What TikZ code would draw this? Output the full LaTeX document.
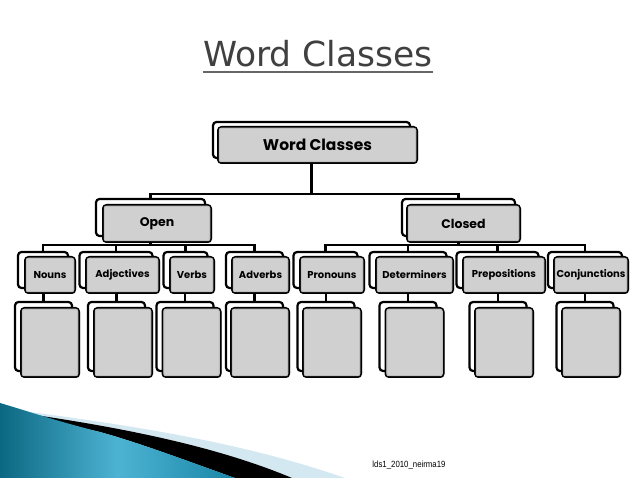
\documentclass[tikz,border=0pt]{standalone}
\usepackage{fontspec}
\setmainfont{DejaVu Sans}
\newfontfamily\boxfont{Poppins}
\newfontfamily\footfont{Liberation Sans}
\usetikzlibrary{shadows}
\definecolor{boxgray}{HTML}{D0D0D0}
\definecolor{titlegray}{HTML}{404040}
\definecolor{tealdark}{HTML}{0C6882}
\definecolor{teallight}{HTML}{4DB3D3}
\definecolor{tealmid}{HTML}{1A86A6}
\definecolor{paleblue}{HTML}{D3E8F0}
\pgfdeclarelayer{bg}
\pgfsetlayers{bg,main}
\tikzset{
  backbox/.style={draw=black, line width=2.2pt, fill=white, rounded corners=3.5pt, inner sep=0pt},
  frontbox/.style={draw=black, line width=2pt, fill=boxgray, rounded corners=3.5pt, inner sep=0pt,
    drop shadow={shadow xshift=1pt, shadow yshift=-1pt, fill=black!60, opacity=0.6}},
  bevelline/.style={draw=gray!50, line width=1.1pt, rounded corners=2pt},
  lbl/.style={font=\boxfont\bfseries\fontsize{10}{12}\selectfont},
  lbltop/.style={font=\boxfont\bfseries\fontsize{12.5}{14}\selectfont},
  conn/.style={draw=black, line width=2.3pt},
}
\newcommand{\bevel}[1]{\draw[bevelline] ([shift={(2.3pt,-2.3pt)}]#1.north west) rectangle ([shift={(-2.3pt,2.3pt)}]#1.south east);}
\begin{document}
\begin{tikzpicture}[x=1pt,y=-1pt]
\useasboundingbox (0,0) rectangle (638,478);
\begin{pgfonlayer}{bg}
\fill[white] (0,0) rectangle (638,478);
\end{pgfonlayer}

% title
\node[anchor=base, text=titlegray, font=\fontsize{34.5}{38}\selectfont, inner sep=0pt] (title) at (318,67) {Word Classes};
\draw[titlegray!80, line width=2pt] (title.south west |- 0,72) -- (title.south east |- 0,72);

% swoosh
\fill[paleblue] (0,403) -- (30,412) .. controls (150,428) and (250,445) .. (345,478) -- (0,478) -- cycle;
\fill[black] (35,415) .. controls (150,432) and (230,452) .. (292,478) -- (235,478)
  .. controls (190,462) and (140,443) .. (100,432) .. controls (70,425) and (50,420) .. (35,416) -- cycle;
\shade[left color=tealdark, right color=tealmid, middle color=teallight]
  (0,403) .. controls (30,412) and (60,422) .. (100,432) .. controls (140,443) and (190,462) .. (235,478) -- (0,478) -- cycle;
\node[font=\footfont\fontsize{9}{10}\selectfont, xscale=0.87, inner sep=0pt] (foot) at (409,465) {lds1\_2010\_neirma19};

% root
\node[backbox, minimum width=197pt, minimum height=36pt] (rootb) at (311.5,140) {};
\node[frontbox, minimum width=199pt, minimum height=36pt, font=\boxfont\bfseries\fontsize{15.5}{17}\selectfont] (root) at (317.5,145) {Word Classes};
\bevel{root}

% level 1
\node[backbox, minimum width=109pt, minimum height=37pt] (openb) at (150.5,217.5) {};
\node[frontbox, lbltop, minimum width=108pt, minimum height=37pt] (open) at (157,223.5) {Open};
\bevel{open}
\node[backbox, minimum width=113pt, minimum height=37pt] (closedb) at (458.5,217.5) {};
\node[frontbox, lbltop, minimum width=113pt, minimum height=37pt] (closed) at (463.5,223.5) {Closed};
\bevel{closed}

% level 2
\foreach \nm/\fx/\bx/\w/\txt in {nouns/50/43/50/Nouns, adj/122.5/116/73/Adjectives, verbs/192/185.5/44/Verbs, adv/260.5/254.5/57/Adverbs,
  pron/332/325.5/64/Pronouns, det/414.5/408/77/Determiners, prep/504/497.5/82/Prepositions, conj/591/585/74/Conjunctions}{
  \node[backbox, minimum width=\w pt, minimum height=36pt] (\nm b) at (\bx,270) {};
  \node[frontbox, lbl, minimum width=\w pt, minimum height=36pt] (\nm) at (\fx,275) {\txt};
  \bevel{\nm}
}

% level 3
\foreach \nm/\fx/\bx in {nouns/50/43.5, adj/123/116.5, verbs/191.5/185, adv/260/254.5,
  pron/332/326, det/414.5/408, prep/504/498, conj/591/585}{
  \node[backbox, minimum width=57pt, minimum height=69pt] (\nm bb) at (\bx,336.5) {};
  \node[frontbox, minimum width=58pt, minimum height=69pt] (\nm e) at (\fx,342.5) {};
  \bevel{\nm e}
}

% connectors
\begin{pgfonlayer}{bg}
\draw[conn] (rootb.south) -- (rootb.south |- 0,195);
\draw[conn] (openb.north) -- ++(0,-4) -| (closedb.north);
\draw[conn] (openb.south) -- (openb.south |- 0,246);
\draw[conn] (nounsb.north) -- ++(0,-6) -| (advb.north);
\draw[conn] (adjb.north) -- ++(0,-6);
\draw[conn] (verbsb.north) -- ++(0,-6);
\draw[conn] (closedb.south) -- (closedb.south |- 0,246);
\draw[conn] (pronb.north) -- ++(0,-6) -| (conjb.north);
\draw[conn] (detb.north) -- ++(0,-6);
\draw[conn] (prepb.north) -- ++(0,-6);
\foreach \nm in {nouns,adj,verbs,adv,pron,det,prep,conj}{
  \draw[conn] (\nm bb.north |- \nm.south) -- (\nm bb.north);
}
\end{pgfonlayer}
\end{tikzpicture}
\end{document}
